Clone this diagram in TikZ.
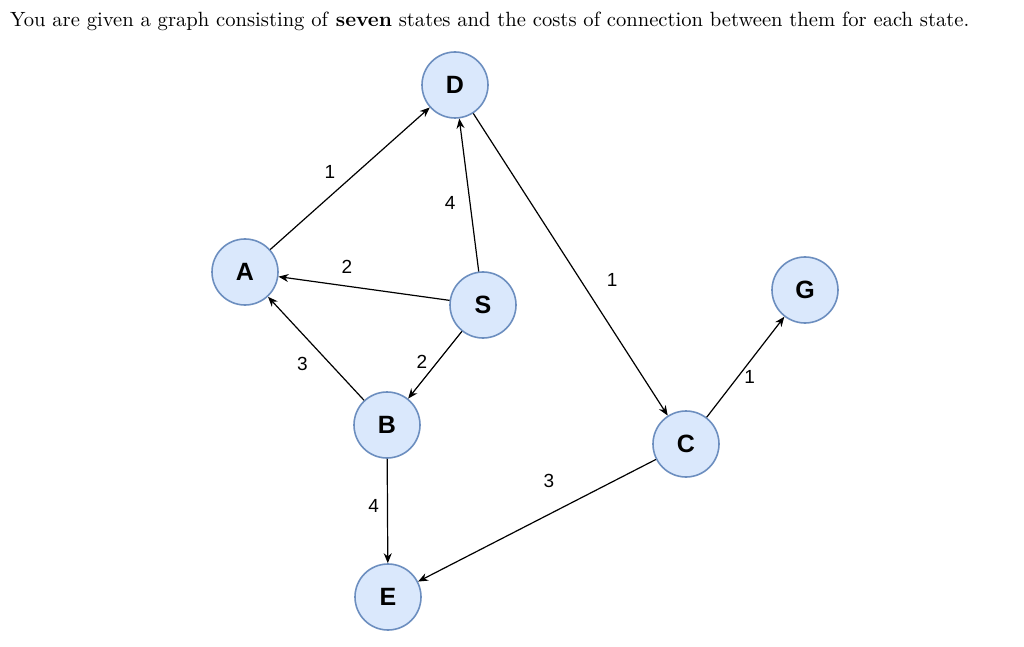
\documentclass[tikz,border=0pt]{standalone}
\usepackage{fontspec}
\newfontfamily\sansfont{Liberation Sans}
\usetikzlibrary{positioning}
\usetikzlibrary{arrows.meta}
\definecolor{stfill}{HTML}{DAE8FC}
\definecolor{stdraw}{HTML}{6C8EBF}
\tikzset{state/.style={circle,draw=stdraw,fill=stfill,thick,minimum size=33pt,inner sep=0pt,font=\sansfont\bfseries\fontsize{12.5}{14}\selectfont}}
\tikzset{edge/.style={-{Stealth[length=5pt,width=4pt]},line width=0.6pt}}
\tikzset{lbl/.style={font=\sansfont\fontsize{9.5}{11}\selectfont,inner sep=1pt}}
\begin{document}
\begin{tikzpicture}[x=0.5pt,y=-0.5pt]
      \useasboundingbox (0,0) rectangle (1024,647);
      \node [anchor=west,font=\fontsize{10.3}{12}\selectfont] (title) at (3,21) {You are given a graph consisting of \textbf{seven} states and the costs of connection between them for each state.};
      \node [state] (D) at (455,85) {D};
      \node [state] (A) at (245,272) {A};
      \node [state] (S) at (483,305) {S};
      \node [state] (G) at (805,290) {G};
      \node [state] (B) at (387,425) {B};
      \node [state] (C) at (686,444) {C};
      \node [state] (E) at (388,597) {E};
      \draw[edge] (A) -- node[lbl,pos=0.45,above left=3pt] {1} (D);
      \draw[edge] (S) -- node[lbl,pos=0.45,left=6pt] {4} (D);
      \draw[edge] (D) -- node[lbl,pos=0.55,right=12pt] {1} (C);
      \draw[edge] (S) -- node[lbl,pos=0.6,above=5pt] {2} (A);
      \draw[edge] (S) -- node[lbl,pos=0.45,left=4pt] {2} (B);
      \draw[edge] (B) -- node[lbl,pos=0.5,below left=4pt] {3} (A);
      \draw[edge] (C) -- node[lbl,pos=0.4,right=2pt] {1} (G);
      \draw[edge] (B) -- node[lbl,pos=0.45,left=3pt] {4} (E);
      \draw[edge] (C) -- node[lbl,pos=0.45,above=12pt] {3} (E);
\end{tikzpicture}
\end{document}
